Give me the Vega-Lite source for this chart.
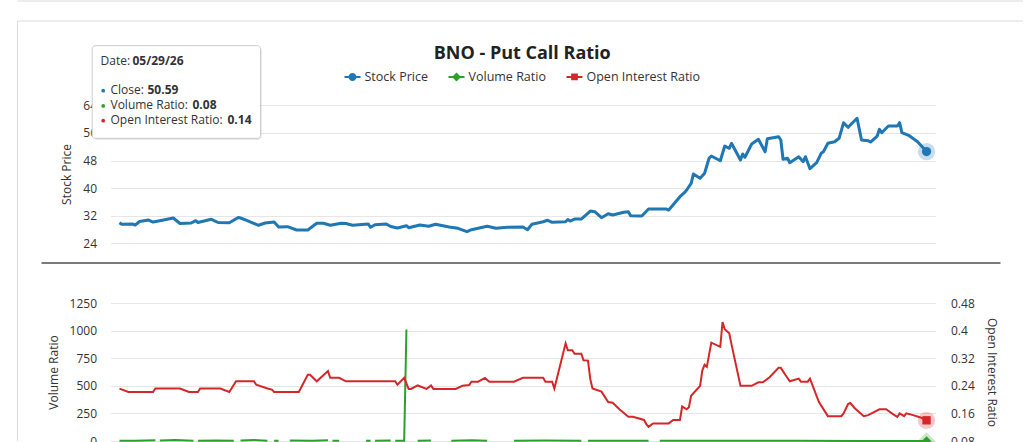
{
  "$schema": "https://vega.github.io/schema/vega-lite/v6.json",
  "padding": {"left": 16.5, "top": 0, "right": 0, "bottom": 0},
  "background": "white",
  "config": {
    "font": "Open Sans",
    "view": {"stroke": null},
    "axis": {"labelFont": "Open Sans", "titleFont": "Open Sans", "labelFontSize": 12, "titleFontSize": 12, "labelColor": "#333333", "titleColor": "#333333", "titleFontWeight": "normal", "gridColor": "#e6e6e6", "gridWidth": 1, "domain": false, "ticks": false},
    "legend": {"labelFont": "Open Sans", "labelFontSize": 12.5, "labelColor": "#333333"}
  },
  "title": {"text": "BNO - Put Call Ratio", "fontSize": 18, "fontWeight": "bold", "font": "Open Sans", "color": "#222222", "anchor": "middle", "frame": "bounds", "offset": -63, "dx": 2},
  "datasets": {
    "stock": [
      {"date": "2025-06-03", "close": 29.97}, {"date": "2025-06-04", "close": 29.51}, {"date": "2025-06-09", "close": 29.59}, {"date": "2025-06-10", "close": 29.30},
      {"date": "2025-06-12", "close": 30.32}, {"date": "2025-06-16", "close": 30.75}, {"date": "2025-06-18", "close": 30.17}, {"date": "2025-06-21", "close": 30.55},
      {"date": "2025-06-27", "close": 31.33}, {"date": "2025-06-30", "close": 29.74}, {"date": "2025-07-05", "close": 29.88}, {"date": "2025-07-07", "close": 30.55},
      {"date": "2025-07-08", "close": 30.03}, {"date": "2025-07-14", "close": 30.96}, {"date": "2025-07-17", "close": 30.03}, {"date": "2025-07-22", "close": 29.97},
      {"date": "2025-07-26", "close": 31.48}, {"date": "2025-07-27", "close": 31.33}, {"date": "2025-07-30", "close": 30.55}, {"date": "2025-08-04", "close": 29.22},
      {"date": "2025-08-07", "close": 29.88}, {"date": "2025-08-11", "close": 30.17}, {"date": "2025-08-13", "close": 28.72}, {"date": "2025-08-17", "close": 28.81},
      {"date": "2025-08-21", "close": 27.86}, {"date": "2025-08-26", "close": 27.86}, {"date": "2025-08-30", "close": 29.80}, {"date": "2025-09-02", "close": 29.80},
      {"date": "2025-09-05", "close": 29.22}, {"date": "2025-09-10", "close": 29.80}, {"date": "2025-09-12", "close": 29.74}, {"date": "2025-09-15", "close": 29.22},
      {"date": "2025-09-22", "close": 29.59}, {"date": "2025-09-23", "close": 28.64}, {"date": "2025-09-25", "close": 29.39}, {"date": "2025-09-30", "close": 29.59},
      {"date": "2025-10-02", "close": 28.87}, {"date": "2025-10-05", "close": 28.43}, {"date": "2025-10-09", "close": 29.10}, {"date": "2025-10-10", "close": 28.52},
      {"date": "2025-10-15", "close": 29.30}, {"date": "2025-10-19", "close": 28.93}, {"date": "2025-10-22", "close": 29.51}, {"date": "2025-10-28", "close": 28.72},
      {"date": "2025-11-01", "close": 28.35}, {"date": "2025-11-05", "close": 27.36}, {"date": "2025-11-07", "close": 27.94}, {"date": "2025-11-14", "close": 28.93},
      {"date": "2025-11-18", "close": 28.35}, {"date": "2025-11-23", "close": 28.64}, {"date": "2025-11-30", "close": 28.72}, {"date": "2025-12-02", "close": 27.94},
      {"date": "2025-12-04", "close": 29.51}, {"date": "2025-12-09", "close": 30.26}, {"date": "2025-12-11", "close": 30.67}, {"date": "2025-12-13", "close": 30.09},
      {"date": "2025-12-19", "close": 30.26}, {"date": "2025-12-20", "close": 30.90}, {"date": "2025-12-21", "close": 30.46}, {"date": "2025-12-23", "close": 31.04},
      {"date": "2025-12-26", "close": 31.04}, {"date": "2025-12-30", "close": 33.36}, {"date": "2026-01-01", "close": 33.16}, {"date": "2026-01-04", "close": 31.42},
      {"date": "2026-01-07", "close": 32.58}, {"date": "2026-01-09", "close": 32.20}, {"date": "2026-01-14", "close": 32.99}, {"date": "2026-01-16", "close": 33.16},
      {"date": "2026-01-17", "close": 32.00}, {"date": "2026-01-22", "close": 31.91}, {"date": "2026-01-25", "close": 33.94}, {"date": "2026-02-02", "close": 33.94},
      {"date": "2026-02-03", "close": 33.65}, {"date": "2026-02-08", "close": 37.51}, {"date": "2026-02-10", "close": 38.67}, {"date": "2026-02-11", "close": 39.45},
      {"date": "2026-02-13", "close": 41.39}, {"date": "2026-02-14", "close": 44.09}, {"date": "2026-02-17", "close": 42.84}, {"date": "2026-02-19", "close": 44.29},
      {"date": "2026-02-21", "close": 48.64}, {"date": "2026-02-22", "close": 49.30}, {"date": "2026-02-26", "close": 47.94}, {"date": "2026-02-28", "close": 52.20},
      {"date": "2026-03-02", "close": 51.54}, {"date": "2026-03-03", "close": 52.99}, {"date": "2026-03-07", "close": 48.14}, {"date": "2026-03-08", "close": 49.88},
      {"date": "2026-03-09", "close": 48.93}, {"date": "2026-03-12", "close": 52.78}, {"date": "2026-03-15", "close": 54.14}, {"date": "2026-03-18", "close": 50.55},
      {"date": "2026-03-19", "close": 54.32}, {"date": "2026-03-24", "close": 54.90}, {"date": "2026-03-25", "close": 53.94}, {"date": "2026-03-26", "close": 48.35},
      {"date": "2026-03-28", "close": 48.64}, {"date": "2026-03-29", "close": 47.36}, {"date": "2026-04-02", "close": 49.10}, {"date": "2026-04-04", "close": 47.65},
      {"date": "2026-04-05", "close": 49.10}, {"date": "2026-04-07", "close": 45.62}, {"date": "2026-04-10", "close": 47.36}, {"date": "2026-04-12", "close": 50.09},
      {"date": "2026-04-13", "close": 50.55}, {"date": "2026-04-15", "close": 52.99}, {"date": "2026-04-18", "close": 53.45}, {"date": "2026-04-20", "close": 54.43},
      {"date": "2026-04-22", "close": 58.96}, {"date": "2026-04-24", "close": 57.62}, {"date": "2026-04-28", "close": 60.23}, {"date": "2026-04-30", "close": 53.94},
      {"date": "2026-05-03", "close": 53.74}, {"date": "2026-05-04", "close": 53.36}, {"date": "2026-05-07", "close": 55.10}, {"date": "2026-05-08", "close": 57.04},
      {"date": "2026-05-09", "close": 56.06}, {"date": "2026-05-12", "close": 58.00}, {"date": "2026-05-16", "close": 58.00}, {"date": "2026-05-17", "close": 58.96},
      {"date": "2026-05-18", "close": 56.06}, {"date": "2026-05-21", "close": 55.30}, {"date": "2026-05-25", "close": 53.45}, {"date": "2026-05-29", "close": 50.59}
    ],
    "oi": [
      {"date": "2025-06-03", "oi": 0.232}, {"date": "2025-06-07", "oi": 0.222}, {"date": "2025-06-18", "oi": 0.222}, {"date": "2025-06-19", "oi": 0.232},
      {"date": "2025-06-30", "oi": 0.232}, {"date": "2025-07-04", "oi": 0.222}, {"date": "2025-07-08", "oi": 0.222}, {"date": "2025-07-09", "oi": 0.232},
      {"date": "2025-07-18", "oi": 0.232}, {"date": "2025-07-22", "oi": 0.222}, {"date": "2025-07-25", "oi": 0.253}, {"date": "2025-08-02", "oi": 0.253},
      {"date": "2025-08-03", "oi": 0.243}, {"date": "2025-08-08", "oi": 0.232}, {"date": "2025-08-10", "oi": 0.229}, {"date": "2025-08-11", "oi": 0.222},
      {"date": "2025-08-22", "oi": 0.222}, {"date": "2025-08-26", "oi": 0.272}, {"date": "2025-08-27", "oi": 0.272}, {"date": "2025-08-30", "oi": 0.253},
      {"date": "2025-09-04", "oi": 0.283}, {"date": "2025-09-05", "oi": 0.263}, {"date": "2025-09-09", "oi": 0.263}, {"date": "2025-09-12", "oi": 0.253},
      {"date": "2025-10-04", "oi": 0.253}, {"date": "2025-10-05", "oi": 0.243}, {"date": "2025-10-08", "oi": 0.263}, {"date": "2025-10-10", "oi": 0.231},
      {"date": "2025-10-11", "oi": 0.231}, {"date": "2025-10-14", "oi": 0.241}, {"date": "2025-10-18", "oi": 0.231}, {"date": "2025-10-20", "oi": 0.241},
      {"date": "2025-10-21", "oi": 0.231}, {"date": "2025-10-31", "oi": 0.231}, {"date": "2025-11-03", "oi": 0.240}, {"date": "2025-11-06", "oi": 0.242},
      {"date": "2025-11-07", "oi": 0.252}, {"date": "2025-11-10", "oi": 0.252}, {"date": "2025-11-13", "oi": 0.263}, {"date": "2025-11-15", "oi": 0.252},
      {"date": "2025-11-26", "oi": 0.252}, {"date": "2025-11-30", "oi": 0.263}, {"date": "2025-12-09", "oi": 0.263}, {"date": "2025-12-10", "oi": 0.252},
      {"date": "2025-12-13", "oi": 0.252}, {"date": "2025-12-14", "oi": 0.232}, {"date": "2025-12-19", "oi": 0.363}, {"date": "2025-12-20", "oi": 0.343},
      {"date": "2025-12-22", "oi": 0.343}, {"date": "2025-12-23", "oi": 0.333}, {"date": "2025-12-26", "oi": 0.333}, {"date": "2025-12-27", "oi": 0.314},
      {"date": "2025-12-29", "oi": 0.313}, {"date": "2025-12-30", "oi": 0.260}, {"date": "2025-12-31", "oi": 0.232}, {"date": "2026-01-04", "oi": 0.223},
      {"date": "2026-01-07", "oi": 0.193}, {"date": "2026-01-09", "oi": 0.191}, {"date": "2026-01-12", "oi": 0.172}, {"date": "2026-01-16", "oi": 0.150},
      {"date": "2026-01-18", "oi": 0.150}, {"date": "2026-01-23", "oi": 0.141}, {"date": "2026-01-24", "oi": 0.129}, {"date": "2026-01-25", "oi": 0.121},
      {"date": "2026-01-27", "oi": 0.131}, {"date": "2026-02-03", "oi": 0.131}, {"date": "2026-02-05", "oi": 0.141}, {"date": "2026-02-08", "oi": 0.141},
      {"date": "2026-02-09", "oi": 0.180}, {"date": "2026-02-11", "oi": 0.172}, {"date": "2026-02-12", "oi": 0.178}, {"date": "2026-02-13", "oi": 0.211},
      {"date": "2026-02-17", "oi": 0.240}, {"date": "2026-02-18", "oi": 0.285}, {"date": "2026-02-19", "oi": 0.301}, {"date": "2026-02-20", "oi": 0.295},
      {"date": "2026-02-22", "oi": 0.365}, {"date": "2026-02-26", "oi": 0.353}, {"date": "2026-02-27", "oi": 0.425}, {"date": "2026-02-28", "oi": 0.404},
      {"date": "2026-03-02", "oi": 0.392}, {"date": "2026-03-03", "oi": 0.360}, {"date": "2026-03-07", "oi": 0.240}, {"date": "2026-03-12", "oi": 0.240},
      {"date": "2026-03-15", "oi": 0.250}, {"date": "2026-03-17", "oi": 0.250}, {"date": "2026-03-20", "oi": 0.265}, {"date": "2026-03-24", "oi": 0.292},
      {"date": "2026-03-25", "oi": 0.292}, {"date": "2026-03-27", "oi": 0.272}, {"date": "2026-03-29", "oi": 0.253}, {"date": "2026-04-02", "oi": 0.261},
      {"date": "2026-04-03", "oi": 0.252}, {"date": "2026-04-06", "oi": 0.252}, {"date": "2026-04-07", "oi": 0.261}, {"date": "2026-04-11", "oi": 0.193},
      {"date": "2026-04-15", "oi": 0.152}, {"date": "2026-04-21", "oi": 0.152}, {"date": "2026-04-22", "oi": 0.160}, {"date": "2026-04-24", "oi": 0.187},
      {"date": "2026-04-25", "oi": 0.190}, {"date": "2026-04-27", "oi": 0.175}, {"date": "2026-05-01", "oi": 0.152}, {"date": "2026-05-03", "oi": 0.155},
      {"date": "2026-05-08", "oi": 0.172}, {"date": "2026-05-11", "oi": 0.172}, {"date": "2026-05-14", "oi": 0.158}, {"date": "2026-05-16", "oi": 0.150},
      {"date": "2026-05-17", "oi": 0.160}, {"date": "2026-05-19", "oi": 0.152}, {"date": "2026-05-20", "oi": 0.160}, {"date": "2026-05-23", "oi": 0.155},
      {"date": "2026-05-26", "oi": 0.149}, {"date": "2026-05-29", "oi": 0.14}
    ],
    "volume": [
      {"date": "2025-06-03", "volume": 3}, {"date": "2025-06-10", "volume": 2}, {"date": "2025-06-19", "volume": 6}, {"date": "2025-06-20", "volume": null},
      {"date": "2025-06-21", "volume": 4}, {"date": "2025-06-28", "volume": 8}, {"date": "2025-07-06", "volume": 3}, {"date": "2025-07-07", "volume": null},
      {"date": "2025-07-08", "volume": 2}, {"date": "2025-07-16", "volume": 5}, {"date": "2025-07-24", "volume": 3}, {"date": "2025-07-25", "volume": null},
      {"date": "2025-07-27", "volume": 4}, {"date": "2025-08-02", "volume": 9}, {"date": "2025-08-08", "volume": 2}, {"date": "2025-08-09", "volume": null},
      {"date": "2025-08-11", "volume": 3}, {"date": "2025-08-13", "volume": 2}, {"date": "2025-08-15", "volume": null},
      {"date": "2025-08-18", "volume": 4}, {"date": "2025-08-28", "volume": 2}, {"date": "2025-09-04", "volume": 6}, {"date": "2025-09-05", "volume": null},
      {"date": "2025-09-06", "volume": 3}, {"date": "2025-09-09", "volume": 2}, {"date": "2025-09-12", "volume": null},
      {"date": "2025-09-21", "volume": 2}, {"date": "2025-09-23", "volume": 3}, {"date": "2025-09-24", "volume": null},
      {"date": "2025-09-25", "volume": 2}, {"date": "2025-10-02", "volume": 4}, {"date": "2025-10-03", "volume": null},
      {"date": "2025-10-04", "volume": 3}, {"date": "2025-10-08", "volume": 2}, {"date": "2025-10-09", "volume": 1010}, {"date": "2025-10-10", "volume": null},
      {"date": "2025-10-14", "volume": 3}, {"date": "2025-10-20", "volume": 5}, {"date": "2025-10-25", "volume": null},
      {"date": "2025-10-29", "volume": 2}, {"date": "2025-11-07", "volume": 6}, {"date": "2025-11-14", "volume": 3}, {"date": "2025-11-20", "volume": null},
      {"date": "2025-11-26", "volume": 2}, {"date": "2025-12-10", "volume": 4}, {"date": "2025-12-26", "volume": 3}, {"date": "2025-12-27", "volume": null},
      {"date": "2025-12-29", "volume": 2}, {"date": "2026-01-10", "volume": 3}, {"date": "2026-01-25", "volume": 2}, {"date": "2026-01-28", "volume": null},
      {"date": "2026-01-30", "volume": 2}, {"date": "2026-03-01", "volume": 3}, {"date": "2026-04-01", "volume": 2}, {"date": "2026-05-01", "volume": 1},
      {"date": "2026-05-29", "volume": 0.08}
    ],
    "last": [{"date": "2026-05-29", "close": 50.59, "volume": 0.08, "oi": 0.14}],
    "series": [{"series": "Stock Price"}, {"series": "Volume Ratio"}, {"series": "Open Interest Ratio"}]
  },
  "spacing": 40,
  "bounds": "flush",
  "vconcat": [
    {
      "width": 825,
      "height": 263,
      "layer": [
        {"data": {"name": "stock"}, "mark": {"type": "line", "color": "#1f77b4", "strokeWidth": 3, "strokeJoin": "round"},
         "encoding": {"x": {"field": "date", "type": "temporal", "scale": {"domain": [{"year": 2025, "month": 5, "date": 30, "utc": true}, {"year": 2026, "month": 6, "date": 2, "utc": true}], "nice": false}, "axis": null},
                      "y": {"field": "close", "type": "quantitative", "scale": {"domain": [18.29, 94.522], "nice": false, "zero": false},
                            "axis": {"title": "Stock Price", "values": [24, 32, 40, 48, 56, 64], "format": "d", "grid": true, "labelPadding": 14, "titlePadding": 9, "titleY": 174}}}},
        {"data": {"values": [{}]}, "mark": {"type": "rule", "color": "#dadada", "strokeWidth": 1},
         "encoding": {"x": {"datum": {"year": 2025, "month": 4, "date": 18, "hours": 12, "utc": true}, "type": "temporal", "scale": {"domain": [{"year": 2025, "month": 5, "date": 30, "utc": true}, {"year": 2026, "month": 6, "date": 2, "utc": true}], "nice": false}, "axis": null},
                      "x2": {"datum": {"year": 2026, "month": 7, "date": 11, "utc": true}},
                      "y": {"datum": 94.23, "type": "quantitative", "scale": {"domain": [18.29, 94.522], "nice": false, "zero": false}}}},
        {"data": {"values": [{}]}, "mark": {"type": "rule", "color": "#dadada", "strokeWidth": 1},
         "encoding": {"x": {"datum": {"year": 2025, "month": 4, "date": 18, "hours": 12, "utc": true}, "type": "temporal", "scale": {"domain": [{"year": 2025, "month": 5, "date": 30, "utc": true}, {"year": 2026, "month": 6, "date": 2, "utc": true}], "nice": false}, "axis": null},
                      "x2": {"datum": {"year": 2026, "month": 7, "date": 11, "utc": true}},
                      "y": {"datum": 88.43, "type": "quantitative", "scale": {"domain": [18.29, 94.522], "nice": false, "zero": false}}}},
        {"data": {"values": [{}]}, "mark": {"type": "rule", "color": "#dadada", "strokeWidth": 1},
         "encoding": {"x": {"datum": {"year": 2025, "month": 4, "date": 18, "hours": 12, "utc": true}, "type": "temporal", "scale": {"domain": [{"year": 2025, "month": 5, "date": 30, "utc": true}, {"year": 2026, "month": 6, "date": 2, "utc": true}], "nice": false}, "axis": null},
                      "y": {"datum": 88.43, "type": "quantitative", "scale": {"domain": [18.29, 94.522], "nice": false, "zero": false}},
                      "y2": {"datum": -33.3}}},
        {"data": {"values": [{}]}, "mark": {"type": "rule", "color": "#7b7b7b", "strokeWidth": 2},
         "encoding": {"x": {"datum": {"year": 2025, "month": 4, "date": 29, "hours": 5, "utc": true}, "type": "temporal", "scale": {"domain": [{"year": 2025, "month": 5, "date": 30, "utc": true}, {"year": 2026, "month": 6, "date": 2, "utc": true}], "nice": false}, "axis": null},
                      "x2": {"datum": {"year": 2026, "month": 7, "date": 1, "utc": true}},
                      "y": {"datum": 18.29, "type": "quantitative", "scale": {"domain": [18.29, 94.522], "nice": false, "zero": false}}}},
        {"data": {"name": "last"}, "mark": {"type": "point", "shape": "circle", "filled": true, "color": "#1f77b4", "opacity": 0.25, "size": 300},
         "encoding": {"x": {"field": "date", "type": "temporal", "scale": {"domain": [{"year": 2025, "month": 5, "date": 30, "utc": true}, {"year": 2026, "month": 6, "date": 2, "utc": true}], "nice": false}, "axis": null},
                      "y": {"field": "close", "type": "quantitative", "scale": {"domain": [18.29, 94.522], "nice": false, "zero": false}}}},
        {"data": {"name": "last"}, "mark": {"type": "point", "shape": "circle", "filled": true, "color": "#1f77b4", "opacity": 1, "size": 85},
         "encoding": {"x": {"field": "date", "type": "temporal", "scale": {"domain": [{"year": 2025, "month": 5, "date": 30, "utc": true}, {"year": 2026, "month": 6, "date": 2, "utc": true}], "nice": false}, "axis": null},
                      "y": {"field": "close", "type": "quantitative", "scale": {"domain": [18.29, 94.522], "nice": false, "zero": false}}}},
        {"data": {"values": [{}]}, "mark": {"type": "rect", "color": "#000000", "opacity": 0.09, "cornerRadius": 4},
         "encoding": {"x": {"datum": {"year": 2025, "month": 5, "date": 22, "hours": 12, "utc": true}, "type": "temporal", "scale": {"domain": [{"year": 2025, "month": 5, "date": 30, "utc": true}, {"year": 2026, "month": 6, "date": 2, "utc": true}], "nice": false}, "axis": null},
                      "x2": {"datum": {"year": 2025, "month": 8, "date": 5, "hours": 12, "utc": true}},
                      "y": {"datum": 80.90, "type": "quantitative", "scale": {"domain": [18.29, 94.522], "nice": false, "zero": false}},
                      "y2": {"datum": 53.94}}},
        {"data": {"values": [{}]}, "mark": {"type": "rect", "fill": "#ffffff", "stroke": "#cccccc", "strokeWidth": 1, "cornerRadius": 3},
         "encoding": {"x": {"datum": {"year": 2025, "month": 5, "date": 21, "hours": 20, "utc": true}, "type": "temporal", "scale": {"domain": [{"year": 2025, "month": 5, "date": 30, "utc": true}, {"year": 2026, "month": 6, "date": 2, "utc": true}], "nice": false}, "axis": null},
                      "x2": {"datum": {"year": 2025, "month": 8, "date": 4, "hours": 22, "utc": true}},
                      "y": {"datum": 81.28, "type": "quantitative", "scale": {"domain": [18.29, 94.522], "nice": false, "zero": false}},
                      "y2": {"datum": 54.43}}},
        {"data": {"values": [{}]}, "mark": {"type": "text", "text": "Date:", "align": "left", "baseline": "alphabetic", "fontSize": 12, "color": "#333333"},
         "encoding": {"x": {"datum": {"year": 2025, "month": 5, "date": 25, "hours": 13, "utc": true}, "type": "temporal", "scale": {"domain": [{"year": 2025, "month": 5, "date": 30, "utc": true}, {"year": 2026, "month": 6, "date": 2, "utc": true}], "nice": false}, "axis": null},
                      "y": {"datum": 75.68, "type": "quantitative", "scale": {"domain": [18.29, 94.522], "nice": false, "zero": false}}}},
        {"data": {"values": [{}]}, "mark": {"type": "text", "text": "05/29/26", "align": "left", "baseline": "alphabetic", "fontSize": 12, "fontWeight": "bold", "color": "#333333", "dx": 32},
         "encoding": {"x": {"datum": {"year": 2025, "month": 5, "date": 25, "hours": 13, "utc": true}, "type": "temporal", "scale": {"domain": [{"year": 2025, "month": 5, "date": 30, "utc": true}, {"year": 2026, "month": 6, "date": 2, "utc": true}], "nice": false}, "axis": null},
                      "y": {"datum": 75.68, "type": "quantitative", "scale": {"domain": [18.29, 94.522], "nice": false, "zero": false}}}},
        {"data": {"values": [{}]}, "mark": {"type": "text", "text": "Close:", "align": "left", "baseline": "alphabetic", "fontSize": 12, "color": "#333333"},
         "encoding": {"x": {"datum": {"year": 2025, "month": 5, "date": 30, "utc": true}, "type": "temporal", "scale": {"domain": [{"year": 2025, "month": 5, "date": 30, "utc": true}, {"year": 2026, "month": 6, "date": 2, "utc": true}], "nice": false}, "axis": null},
                      "y": {"datum": 67.28, "type": "quantitative", "scale": {"domain": [18.29, 94.522], "nice": false, "zero": false}}}},
        {"data": {"values": [{}]}, "mark": {"type": "text", "text": "Volume Ratio:", "align": "left", "baseline": "alphabetic", "fontSize": 12, "color": "#333333"},
         "encoding": {"x": {"datum": {"year": 2025, "month": 5, "date": 30, "utc": true}, "type": "temporal", "scale": {"domain": [{"year": 2025, "month": 5, "date": 30, "utc": true}, {"year": 2026, "month": 6, "date": 2, "utc": true}], "nice": false}, "axis": null},
                      "y": {"datum": 62.84, "type": "quantitative", "scale": {"domain": [18.29, 94.522], "nice": false, "zero": false}}}},
        {"data": {"values": [{}]}, "mark": {"type": "text", "text": "Open Interest Ratio:", "align": "left", "baseline": "alphabetic", "fontSize": 12, "color": "#333333"},
         "encoding": {"x": {"datum": {"year": 2025, "month": 5, "date": 30, "utc": true}, "type": "temporal", "scale": {"domain": [{"year": 2025, "month": 5, "date": 30, "utc": true}, {"year": 2026, "month": 6, "date": 2, "utc": true}], "nice": false}, "axis": null},
                      "y": {"datum": 58.58, "type": "quantitative", "scale": {"domain": [18.29, 94.522], "nice": false, "zero": false}}}},
        {"data": {"values": [{}]}, "mark": {"type": "text", "text": "50.59", "align": "left", "baseline": "alphabetic", "fontSize": 12, "fontWeight": "bold", "color": "#333333", "dx": 37},
         "encoding": {"x": {"datum": {"year": 2025, "month": 5, "date": 30, "utc": true}, "type": "temporal", "scale": {"domain": [{"year": 2025, "month": 5, "date": 30, "utc": true}, {"year": 2026, "month": 6, "date": 2, "utc": true}], "nice": false}, "axis": null},
                      "y": {"datum": 67.28, "type": "quantitative", "scale": {"domain": [18.29, 94.522], "nice": false, "zero": false}}}},
        {"data": {"values": [{}]}, "mark": {"type": "text", "text": "0.08", "align": "left", "baseline": "alphabetic", "fontSize": 12, "fontWeight": "bold", "color": "#333333", "dx": 82},
         "encoding": {"x": {"datum": {"year": 2025, "month": 5, "date": 30, "utc": true}, "type": "temporal", "scale": {"domain": [{"year": 2025, "month": 5, "date": 30, "utc": true}, {"year": 2026, "month": 6, "date": 2, "utc": true}], "nice": false}, "axis": null},
                      "y": {"datum": 62.84, "type": "quantitative", "scale": {"domain": [18.29, 94.522], "nice": false, "zero": false}}}},
        {"data": {"values": [{}]}, "mark": {"type": "text", "text": "0.14", "align": "left", "baseline": "alphabetic", "fontSize": 12, "fontWeight": "bold", "color": "#333333", "dx": 117},
         "encoding": {"x": {"datum": {"year": 2025, "month": 5, "date": 30, "utc": true}, "type": "temporal", "scale": {"domain": [{"year": 2025, "month": 5, "date": 30, "utc": true}, {"year": 2026, "month": 6, "date": 2, "utc": true}], "nice": false}, "axis": null},
                      "y": {"datum": 58.58, "type": "quantitative", "scale": {"domain": [18.29, 94.522], "nice": false, "zero": false}}}},
        {"data": {"values": [{}]}, "mark": {"type": "point", "shape": "circle", "filled": true, "opacity": 1, "size": 14, "color": "#1f77b4"},
         "encoding": {"x": {"datum": {"year": 2025, "month": 5, "date": 26, "hours": 18, "utc": true}, "type": "temporal", "scale": {"domain": [{"year": 2025, "month": 5, "date": 30, "utc": true}, {"year": 2026, "month": 6, "date": 2, "utc": true}], "nice": false}, "axis": null},
                      "y": {"datum": 68.23, "type": "quantitative", "scale": {"domain": [18.29, 94.522], "nice": false, "zero": false}}}},
        {"data": {"values": [{}]}, "mark": {"type": "point", "shape": "circle", "filled": true, "opacity": 1, "size": 14, "color": "#2ca02c"},
         "encoding": {"x": {"datum": {"year": 2025, "month": 5, "date": 26, "hours": 18, "utc": true}, "type": "temporal", "scale": {"domain": [{"year": 2025, "month": 5, "date": 30, "utc": true}, {"year": 2026, "month": 6, "date": 2, "utc": true}], "nice": false}, "axis": null},
                      "y": {"datum": 63.80, "type": "quantitative", "scale": {"domain": [18.29, 94.522], "nice": false, "zero": false}}}},
        {"data": {"values": [{}]}, "mark": {"type": "point", "shape": "circle", "filled": true, "opacity": 1, "size": 14, "color": "#d62728"},
         "encoding": {"x": {"datum": {"year": 2025, "month": 5, "date": 26, "hours": 18, "utc": true}, "type": "temporal", "scale": {"domain": [{"year": 2025, "month": 5, "date": 30, "utc": true}, {"year": 2026, "month": 6, "date": 2, "utc": true}], "nice": false}, "axis": null},
                      "y": {"datum": 59.54, "type": "quantitative", "scale": {"domain": [18.29, 94.522], "nice": false, "zero": false}}}},
        {"data": {"name": "series"}, "mark": {"type": "point", "filled": true, "opacity": 0},
         "encoding": {
           "color": {"field": "series", "type": "nominal",
                     "scale": {"domain": ["Stock Price", "Volume Ratio", "Open Interest Ratio"], "range": ["#1f77b4", "#2ca02c", "#d62728"]},
                     "legend": {"title": null, "orient": "none", "legendX": 234, "legendY": 68.7, "direction": "horizontal", "symbolSize": 256, "symbolStrokeWidth": 0, "symbolOpacity": 1, "labelOffset": 4, "columnPadding": 20, "labelFontSize": 12.5, "labelColor": "#333333"}},
           "shape": {"field": "series", "type": "nominal",
                     "scale": {"domain": ["Stock Price", "Volume Ratio", "Open Interest Ratio"],
                               "range": ["M-1,-0.13H1V0.13H-1Z M0.5,0A0.5,0.5,0,1,1,-0.5,0A0.5,0.5,0,1,1,0.5,0Z",
                                         "M-1,-0.13H1V0.13H-1Z M0,-0.56L0.56,0L0,0.56L-0.56,0Z",
                                         "M-1,-0.13H1V0.13H-1Z M-0.42,-0.42H0.42V0.42H-0.42Z"]},
                     "legend": {"title": null, "orient": "none", "legendX": 234, "legendY": 68.7, "direction": "horizontal", "symbolSize": 256, "symbolStrokeWidth": 0, "symbolOpacity": 1, "labelOffset": 4, "columnPadding": 20, "labelFontSize": 12.5, "labelColor": "#333333"}}
         }}
      ]
    },
    {
      "width": 825,
      "height": 138,
      "layer": [
        {
          "layer": [
            {"data": {"name": "volume"}, "mark": {"type": "line", "color": "#2ca02c", "strokeWidth": 2, "invalid": "break-paths-show-domains"},
             "encoding": {"x": {"field": "date", "type": "temporal", "scale": {"domain": [{"year": 2025, "month": 5, "date": 30, "utc": true}, {"year": 2026, "month": 6, "date": 2, "utc": true}], "nice": false}, "axis": null},
                          "y": {"field": "volume", "type": "quantitative", "scale": {"domain": [0, 1250], "nice": false},
                                "axis": {"title": "Volume Ratio", "values": [0, 250, 500, 750, 1000, 1250], "format": "d", "grid": true, "labelPadding": 14, "titlePadding": 9, "labelOverlap": false}}}},
            {"data": {"name": "last"}, "mark": {"type": "point", "shape": "diamond", "filled": true, "color": "#2ca02c", "opacity": 0.25, "size": 300},
             "encoding": {"x": {"field": "date", "type": "temporal", "scale": {"domain": [{"year": 2025, "month": 5, "date": 30, "utc": true}, {"year": 2026, "month": 6, "date": 2, "utc": true}], "nice": false}, "axis": null},
                          "y": {"field": "volume", "type": "quantitative", "scale": {"domain": [0, 1250], "nice": false},
                                "axis": {"title": "Volume Ratio", "values": [0, 250, 500, 750, 1000, 1250], "format": "d", "grid": true, "labelPadding": 14, "titlePadding": 9, "labelOverlap": false}}}},
            {"data": {"name": "last"}, "mark": {"type": "point", "shape": "diamond", "filled": true, "color": "#2ca02c", "opacity": 1, "size": 90},
             "encoding": {"x": {"field": "date", "type": "temporal", "scale": {"domain": [{"year": 2025, "month": 5, "date": 30, "utc": true}, {"year": 2026, "month": 6, "date": 2, "utc": true}], "nice": false}, "axis": null},
                          "y": {"field": "volume", "type": "quantitative", "scale": {"domain": [0, 1250], "nice": false},
                                "axis": {"title": "Volume Ratio", "values": [0, 250, 500, 750, 1000, 1250], "format": "d", "grid": true, "labelPadding": 14, "titlePadding": 9, "labelOverlap": false}}}}
          ]
        },
        {
          "layer": [
            {"data": {"name": "oi"}, "mark": {"type": "line", "color": "#d62728", "strokeWidth": 2},
             "encoding": {"x": {"field": "date", "type": "temporal", "scale": {"domain": [{"year": 2025, "month": 5, "date": 30, "utc": true}, {"year": 2026, "month": 6, "date": 2, "utc": true}], "nice": false}, "axis": null},
                          "y": {"field": "oi", "type": "quantitative", "scale": {"domain": [0.08, 0.48], "nice": false, "zero": false},
                                "axis": {"title": "Open Interest Ratio", "orient": "right", "values": [0.08, 0.16, 0.24, 0.32, 0.4, 0.48], "format": "~g", "grid": false, "labelPadding": 15, "titlePadding": 10, "labelOverlap": false}}}},
            {"data": {"name": "last"}, "mark": {"type": "point", "shape": "circle", "filled": true, "color": "#d62728", "opacity": 0.25, "size": 300},
             "encoding": {"x": {"field": "date", "type": "temporal", "scale": {"domain": [{"year": 2025, "month": 5, "date": 30, "utc": true}, {"year": 2026, "month": 6, "date": 2, "utc": true}], "nice": false}, "axis": null},
                          "y": {"field": "oi", "type": "quantitative", "scale": {"domain": [0.08, 0.48], "nice": false, "zero": false},
                                "axis": {"title": "Open Interest Ratio", "orient": "right", "values": [0.08, 0.16, 0.24, 0.32, 0.4, 0.48], "format": "~g", "grid": false, "labelPadding": 15, "titlePadding": 10, "labelOverlap": false}}}},
            {"data": {"name": "last"}, "mark": {"type": "point", "shape": "square", "filled": true, "color": "#d62728", "opacity": 1, "size": 70},
             "encoding": {"x": {"field": "date", "type": "temporal", "scale": {"domain": [{"year": 2025, "month": 5, "date": 30, "utc": true}, {"year": 2026, "month": 6, "date": 2, "utc": true}], "nice": false}, "axis": null},
                          "y": {"field": "oi", "type": "quantitative", "scale": {"domain": [0.08, 0.48], "nice": false, "zero": false},
                                "axis": {"title": "Open Interest Ratio", "orient": "right", "values": [0.08, 0.16, 0.24, 0.32, 0.4, 0.48], "format": "~g", "grid": false, "labelPadding": 15, "titlePadding": 10, "labelOverlap": false}}}}
          ]
        }
      ],
      "resolve": {"scale": {"y": "independent"}}
    }
  ]
}
